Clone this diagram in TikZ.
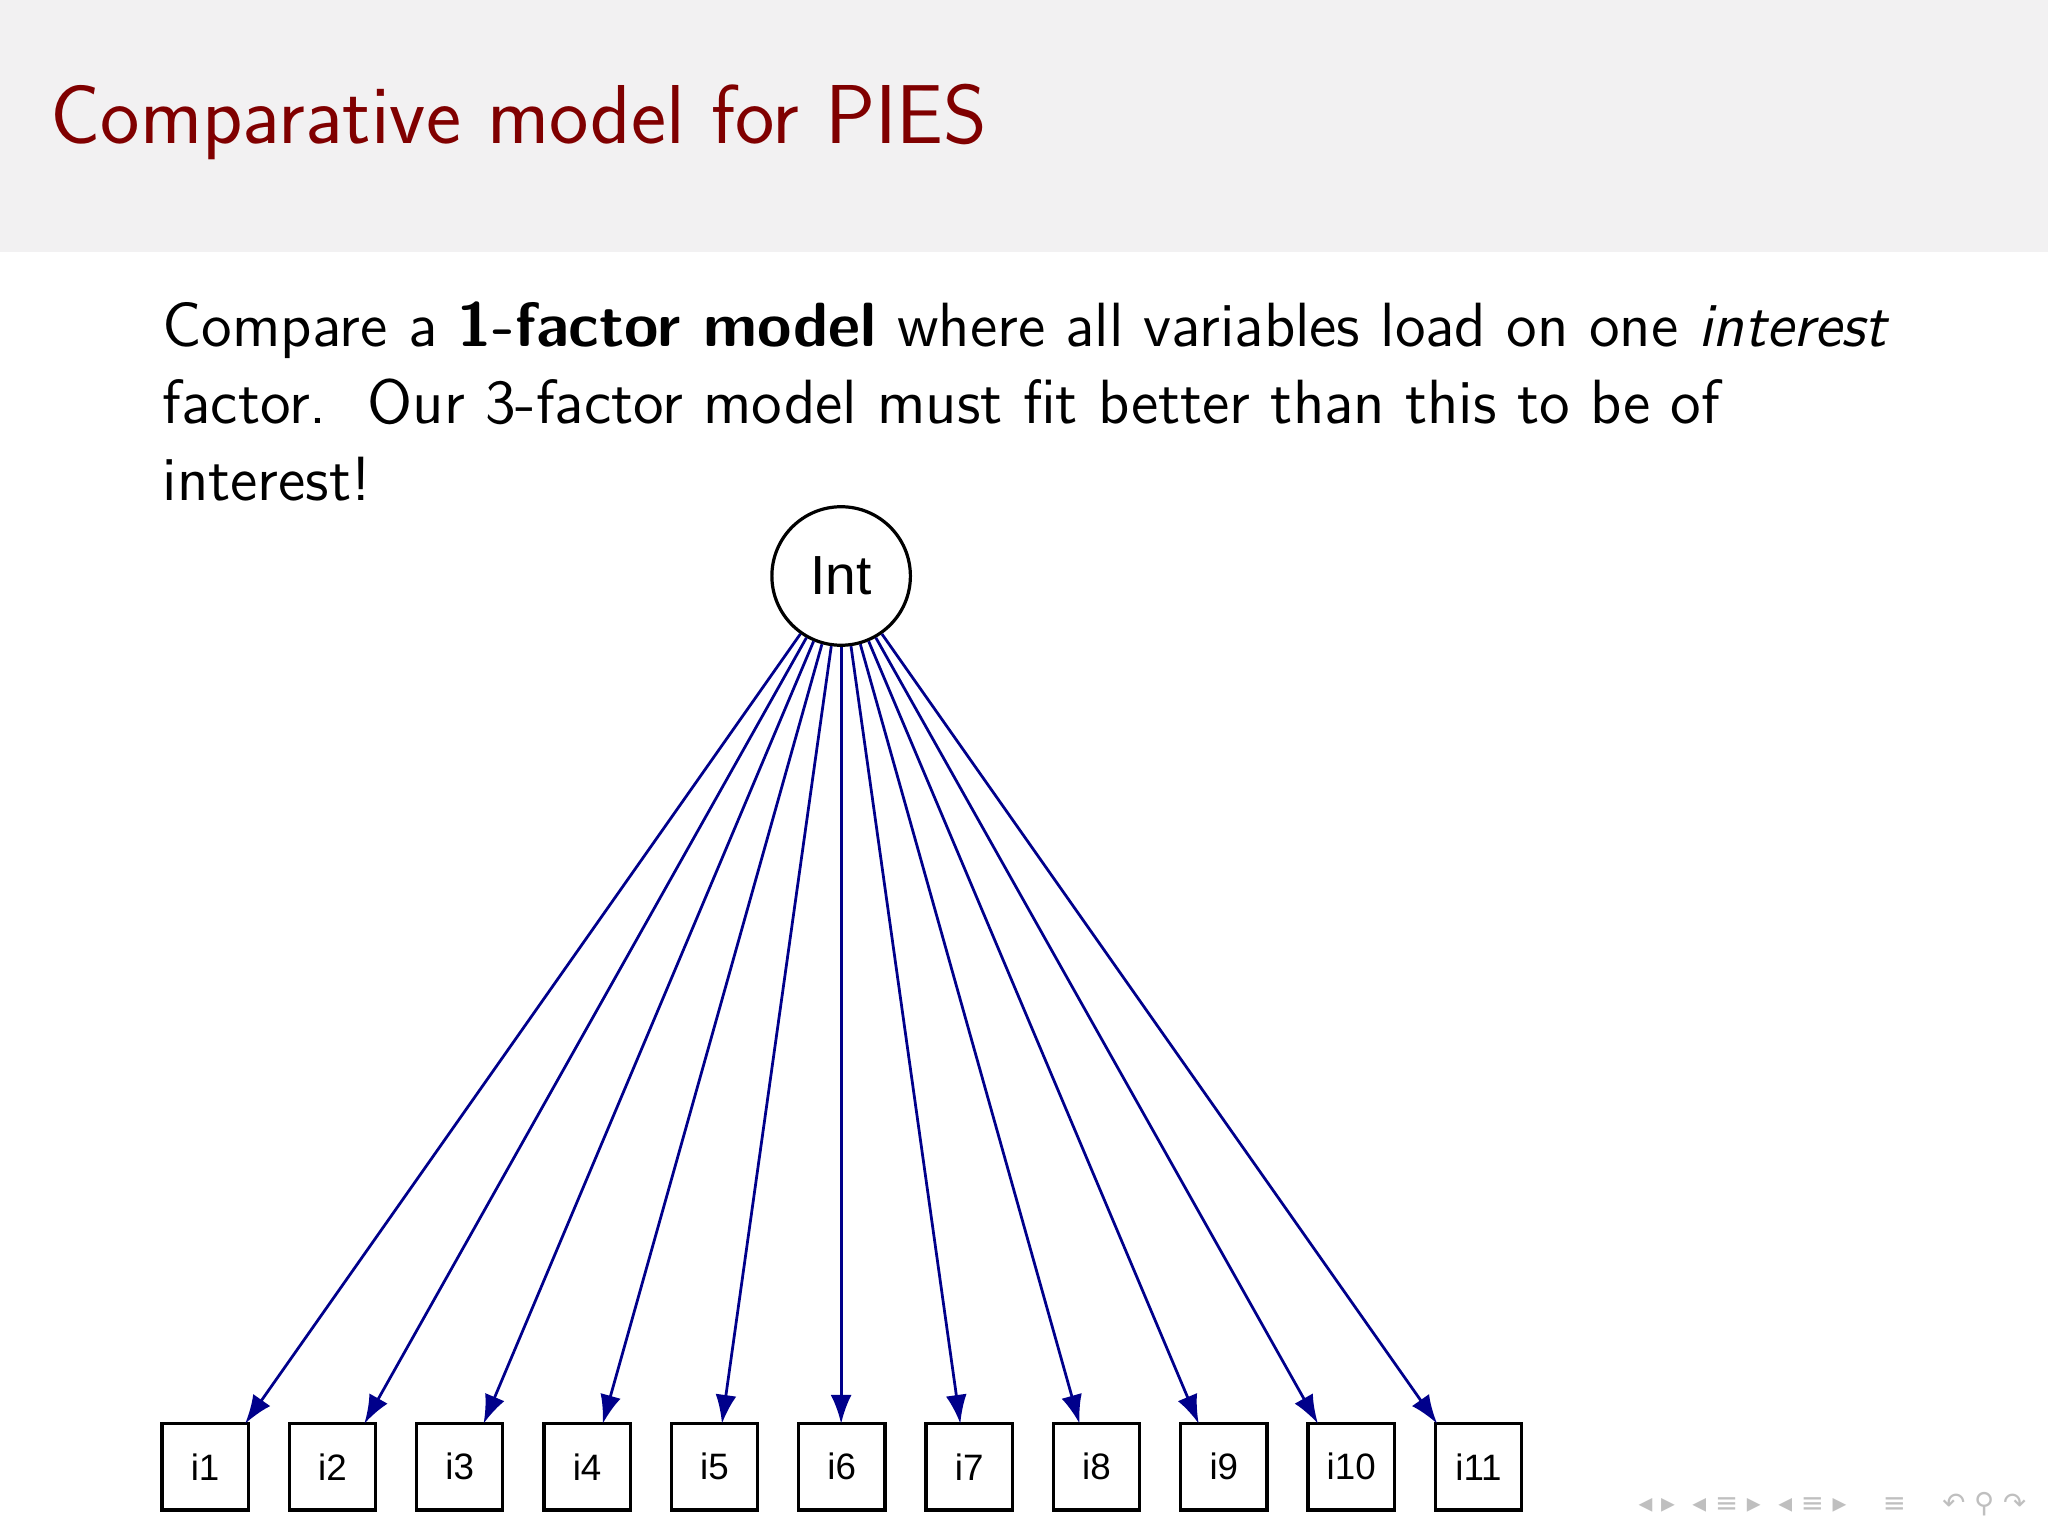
\documentclass[tikz,border=0pt]{standalone}
\usepackage{fontspec}
\newfontfamily\hel{Liberation Sans}
\newfontfamily\dv{DejaVu Sans}
\usetikzlibrary{arrows.meta}
\definecolor{band}{HTML}{F2F1F2}
\definecolor{ttl}{HTML}{800000}
\definecolor{arr}{HTML}{00008B}
\tikzset{itembox/.style={draw,line width=0.7pt,minimum size=0.66cm,inner sep=0pt,font=\hel\fontsize{8}{9}\selectfont},
load/.style={draw=arr,line width=0.6pt,-{Latex[length=2.2mm,width=1.6mm]}}}
\begin{document}
\begin{tikzpicture}[x=0.01cm,y=-0.01cm]
\useasboundingbox (0,0) rectangle (1568,1176);
\fill[white] (0,0) rectangle (1568,1176);
\fill[band] (0,0) rectangle (1568,193);
\node[anchor=base west,inner sep=0pt,text=ttl,font=\sffamily\fontsize{18.2}{20}\selectfont] (title) at (38,110) {Comparative model for PIES};
\node[anchor=base west,inner sep=0pt,font=\sffamily\fontsize{13.6}{16.5}\selectfont] (l1) at (124,265) {Compare a \textbf{1-factor model} where all variables load on one \textit{interest}};
\node[anchor=base west,inner sep=0pt,font=\sffamily\fontsize{13.6}{16.5}\selectfont] (l2) at (124,324) {factor.\ \ Our 3-factor model must fit better than this to be of};
\node[anchor=base west,inner sep=0pt,font=\sffamily\fontsize{13.6}{16.5}\selectfont] (l3) at (124,383) {interest!};
\node[draw,circle,line width=0.7pt,minimum size=1.06cm,inner sep=0pt,font=\hel\fontsize{12}{14}\selectfont] (int) at (644,441) {Int};
\foreach \k in {1,...,11}{
  \node[itembox] (i\k) at ({157+97.5*(\k-1)},1123) {i\k};
  \coordinate (e\k) at ({644+0.936*97.5*(\k-6)},1090);
  \draw[load] (int) -- (e\k);
}
\node[anchor=base east,inner sep=0pt,text=black!25,font=\dv\fontsize{6}{7}\selectfont] (nav) at (1552,1158) {\hspace{0pt}◂ ▸ \ ◂ ≡ ▸ \ ◂ ≡ ▸ \quad ≡ \quad ↶ ⚲ ↷};
\end{tikzpicture}
\end{document}
